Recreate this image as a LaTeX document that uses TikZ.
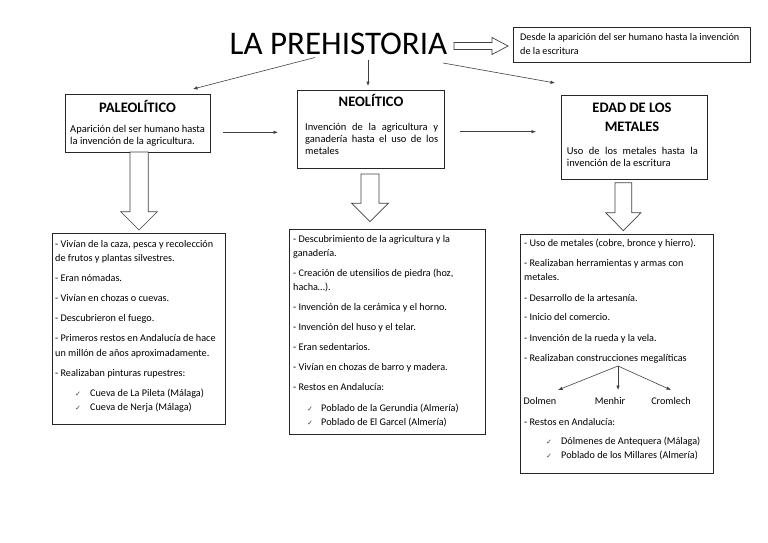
\documentclass[tikz,border=0pt]{standalone}
\usepackage{fontspec}
\setmainfont{Carlito}
\newfontfamily\symfont{DejaVu Sans}
\usetikzlibrary{arrows.meta}
\tikzset{
 frame/.style={draw=black!85, line width=0.8pt, anchor=north west, inner sep=0pt},
 hollow/.style={draw=black!75, line width=0.7pt, fill=white, line join=miter},
 conn/.style={draw=black!75, line width=0.6pt, -{Latex[length=4.5pt,width=3.5pt]}},
 txt/.style={anchor=base west, inner sep=0pt, font=\fontsize{10.2}{12}\selectfont},
 boxtxt/.style={anchor=base west, inner sep=0pt, font=\fontsize{10.5}{12}\selectfont},
 small/.style={anchor=base west, inner sep=0pt, font=\fontsize{10.2}{12}\selectfont},
 lbl/.style={anchor=base, inner sep=0pt, font=\fontsize{10.2}{12}\selectfont},
 head/.style={anchor=base, inner sep=0pt, font=\bfseries\fontsize{14.5}{17}\selectfont},
 chk/.style={anchor=base west, inner sep=0pt, font=\symfont\fontsize{7}{8}\selectfont, text=black!75},
}
\begin{document}
\begin{tikzpicture}[x=1pt,y=-1pt]
\useasboundingbox (0,0) rectangle (768,543);

% title
\node[anchor=base, inner sep=0pt, font=\fontsize{33}{40}\selectfont] (title) at (338.5,55) {LA PREHISTORIA};
\draw[hollow] (454,42.5)--(492,42.5)--(492,37.5)--(508,46)--(492,54.5)--(492,49.5)--(454,49.5)--cycle;
\node[frame, minimum width=237pt, minimum height=35pt] (def) at (513,27) {};
\node[small] (def1) at (520,40.5) {Desde la aparición del ser humano hasta la invención};
\node[small] (def2) at (520,55) {de la escritura};

% period boxes
\node[frame, minimum width=145pt, minimum height=58pt] (paleo) at (65,94) {};
\node[head] (paleoH) at (137.5,112.4) {PALEOLÍTICO};
\node[boxtxt] (paleoT1) at (70,132.3) {Aparición del ser humano hasta};
\node[boxtxt] (paleoT2) at (70,144.6) {la invención de la agricultura.};

\node[frame, minimum width=147pt, minimum height=78pt] (neo) at (297,90) {};
\node[head] (neoH) at (371,106.4) {NEOLÍTICO};
\node[boxtxt] (neoT1) at (305,130.3) {\makebox[133pt][s]{Invención de la agricultura y}};
\node[boxtxt] (neoT2) at (305,142.5) {\makebox[133pt][s]{ganadería hasta el uso de los}};
\node[boxtxt] (neoT3) at (305,154.7) {metales};

\node[frame, minimum width=146pt, minimum height=83.5pt] (met) at (560.7,95) {};
\node[head] (metH1) at (632,112) {EDAD DE LOS};
\node[head] (metH2) at (632,131.4) {METALES};
\node[boxtxt] (metT1) at (566.7,154.2) {\makebox[131pt][s]{Uso de los metales hasta la}};
\node[boxtxt] (metT2) at (566.7,166.4) {invención de la escritura};

% connectors from title
\coordinate (tL) at (315,57.5);
\coordinate (tM) at (368,60);
\coordinate (tR) at (443,63);
\coordinate (eL) at (193,89);
\coordinate (eM) at (368,86);
\coordinate (eR) at (555,83);
\draw[conn] (tL) -- (eL);
\draw[conn] (tM) -- (eM);
\draw[conn] (tR) -- (eR);
\coordinate (pn1) at (223,132.3);
\coordinate (pn2) at (278,132.3);
\coordinate (nm1) at (460,131.7);
\coordinate (nm2) at (536,131.7);
\draw[conn] (pn1) -- (pn2);
\draw[conn] (nm1) -- (nm2);

% hollow down arrows
\draw[hollow] (130,152)--(148.3,152)--(148.3,211.7)--(157.3,211.7)--(139,230)--(120.7,211.7)--(130,211.7)--cycle;
\draw[hollow] (361,174)--(379,174)--(379,203.3)--(388.3,203.3)--(370,221.7)--(351.7,203.3)--(361,203.3)--cycle;
\draw[hollow] (615,182.7)--(631.7,182.7)--(631.7,212.7)--(641,212.7)--(623.3,230.7)--(605.7,212.7)--(615,212.7)--cycle;

% Paleolitico list
\node[frame, minimum width=173.3pt, minimum height=190.7pt] (pl) at (51.7,233.3) {};
\node[txt] (pl1) at (55,247) {- Vivían de la caza, pesca y recolección};
\node[txt] (pl2) at (55,261.5) {de frutos y plantas silvestres.};
\node[txt] (pl3) at (55,281.5) {- Eran nómadas.};
\node[txt] (pl4) at (55,301.5) {- Vivían en chozas o cuevas.};
\node[txt] (pl5) at (55,321.5) {- Descubrieron el fuego.};
\node[txt] (pl6) at (55,341.5) {- Primeros restos en Andalucía de hace};
\node[txt] (pl7) at (55,356) {un millón de años aproximadamente.};
\node[txt] (pl8) at (55,376) {- Realizaban pinturas rupestres:};
\node[chk] (plc1) at (75,396) {✓};
\node[txt] (pl9) at (90,396) {Cueva de La Pileta (Málaga)};
\node[chk] (plc2) at (75,410.5) {✓};
\node[txt] (pl10) at (90,410.5) {Cueva de Nerja (Málaga)};

% Neolitico list
\node[frame, minimum width=196pt, minimum height=205.3pt] (nl) at (289,229) {};
\node[txt] (nl1) at (293,242) {- Descubrimiento de la agricultura y la};
\node[txt] (nl2) at (293,256) {ganadería.};
\node[txt] (nl3) at (293,276) {- Creación de utensilios de piedra (hoz,};
\node[txt] (nl4) at (293,290) {hacha…).};
\node[txt] (nl5) at (293,310) {- Invención de la cerámica y el horno.};
\node[txt] (nl6) at (293,330) {- Invención del huso y el telar.};
\node[txt] (nl7) at (293,350) {- Eran sedentarios.};
\node[txt] (nl8) at (293,370) {- Vivían en chozas de barro y madera.};
\node[txt] (nl9) at (293,390) {- Restos en Andalucía:};
\node[chk] (nlc1) at (307,411) {✓};
\node[txt] (nl10) at (321,411) {Poblado de la Gerundia (Almería)};
\node[chk] (nlc2) at (307,425) {✓};
\node[txt] (nl11) at (321,425) {Poblado de El Garcel (Almería)};

% Metales list
\node[frame, minimum width=193.3pt, minimum height=239pt] (ml) at (519.7,234) {};
\node[txt] (ml1) at (524,246) {- Uso de metales (cobre, bronce y hierro).};
\node[txt] (ml2) at (524,266) {- Realizaban herramientas y armas con};
\node[txt] (ml3) at (524,280.5) {metales.};
\node[txt] (ml4) at (524,301) {- Desarrollo de la artesanía.};
\node[txt] (ml5) at (524,320.5) {- Inicio del comercio.};
\node[txt] (ml6) at (524,341) {- Invención de la rueda y la vela.};
\node[txt] (ml7) at (524,361.5) {- Realizaban construcciones megalíticas};
\coordinate (mega) at (618,366);
\node[lbl] (dol) at (540,404) {Dolmen};
\node[lbl] (men) at (610,404) {Menhir};
\node[lbl] (cro) at (671,404) {Cromlech};
\coordinate (dolT) at (558,390);
\coordinate (menT) at (618,390);
\coordinate (croT) at (671,390);
\draw[conn] (mega) -- (dolT);
\draw[conn] (mega) -- (menT);
\draw[conn] (mega) -- (croT);
\node[txt] (ml8) at (524,425) {- Restos en Andalucía:};
\node[chk] (mlc1) at (546,444) {✓};
\node[txt] (ml9) at (561,444) {Dólmenes de Antequera (Málaga)};
\node[chk] (mlc2) at (546,458) {✓};
\node[txt] (ml10) at (561,458) {Poblado de los Millares (Almería)};
\end{tikzpicture}
\end{document}
